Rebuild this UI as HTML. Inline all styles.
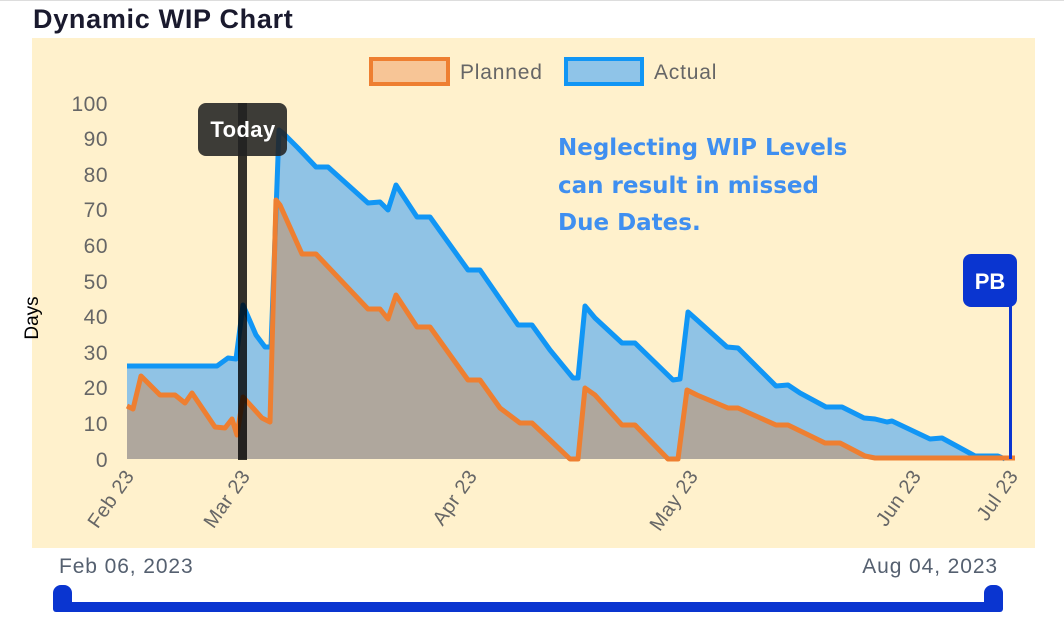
<!DOCTYPE html>
<html><head><meta charset="utf-8"><style>
body{margin:0;width:1064px;height:626px;background:#fff;overflow:hidden;font-family:"Liberation Sans",sans-serif}
</style></head><body>
<svg width="1064" height="626" xmlns="http://www.w3.org/2000/svg" style="position:absolute;left:0;top:0">
<line x1="0" y1="0.5" x2="1064" y2="0.5" stroke="#ddd"/>
<text x="33" y="28" font-size="27" font-weight="bold" fill="#1a1a2e" letter-spacing="0.7">Dynamic WIP Chart</text>
<rect x="32" y="38" width="1003" height="510" fill="#fff1cc"/>
<!-- legend -->
<rect x="371" y="59" width="77" height="25" fill="#f7c596" stroke="#ee7f31" stroke-width="4"/>
<text x="460" y="79" font-size="21" fill="#666" letter-spacing="0.8">Planned</text>
<rect x="566" y="59" width="76" height="25" fill="#8fc4e8" stroke="#1196f5" stroke-width="4"/>
<text x="654" y="79" font-size="21" fill="#666" letter-spacing="0.8">Actual</text>
<!-- y axis -->
<g font-size="21" fill="#666" text-anchor="end" letter-spacing="0.5">
<text x="108" y="111">100</text><text x="108" y="146">90</text><text x="108" y="182">80</text><text x="108" y="217">70</text><text x="108" y="253">60</text><text x="108" y="289">50</text><text x="108" y="324">40</text><text x="108" y="360">30</text><text x="108" y="395">20</text><text x="108" y="431">10</text><text x="108" y="467">0</text>
</g>
<text transform="translate(38,318) rotate(-90)" font-size="19" fill="#000" text-anchor="middle">Days</text>
<!-- actual area -->
<path d="M127,459 L127,366 L217,366 L228,358 L236,359 L243,305 L256,335 L265,347 L271,347 L279,130 L284,134 L298,148 L316,167 L328,167 L368,203 L380,202 L388,210 L396,185 L417,217 L430,217 L468,270 L480,270 L518,325 L532,325 L550,350 L573,378 L578,378 L585,306 L595,318 L622,343 L635,343 L673,380 L680,379 L688,312 L697,320 L727,347 L738,348 L776,386 L788,385 L800,393 L826,407 L842,407 L864,418 L875,419 L887,422 L892,421 L930,439 L942,438 L975,456 L998,456 L1005,459 Z" fill="#90c3e5" stroke="none"/>
<path d="M127,459 L127,406 L133,409 L141,376 L160,395 L175,395 L185,403 L192,393 L215,427 L225,428 L232,419 L237,435 L243,397 L262,418 L270,422 L276,200 L280,205 L302,254 L316,254 L368,309 L380,309 L388,319 L396,295 L417,327 L430,327 L468,380 L480,380 L500,408 L520,423 L532,423 L548,438 L570,459 L578,459 L585,388 L595,395 L622,425 L635,425 L668,459 L678,459 L687,390 L697,395 L728,408 L738,408 L776,425 L788,425 L825,443 L840,443 L865,456 L875,458 L1015,458 L1015,459 Z" fill="#afa79d" stroke="none"/>
<path d="M127,366 L217,366 L228,358 L236,359 L243,305 L256,335 L265,347 L271,347 L279,130 L284,134 L298,148 L316,167 L328,167 L368,203 L380,202 L388,210 L396,185 L417,217 L430,217 L468,270 L480,270 L518,325 L532,325 L550,350 L573,378 L578,378 L585,306 L595,318 L622,343 L635,343 L673,380 L680,379 L688,312 L697,320 L727,347 L738,348 L776,386 L788,385 L800,393 L826,407 L842,407 L864,418 L875,419 L887,422 L892,421 L930,439 L942,438 L975,456 L998,456 L1005,459" fill="none" stroke="#1196f5" stroke-width="5" stroke-linejoin="round"/>
<path d="M127,406 L133,409 L141,376 L160,395 L175,395 L185,403 L192,393 L215,427 L225,428 L232,419 L237,435 L243,397 L262,418 L270,422 L276,200 L280,205 L302,254 L316,254 L368,309 L380,309 L388,319 L396,295 L417,327 L430,327 L468,380 L480,380 L500,408 L520,423 L532,423 L548,438 L570,459 L578,459 L585,388 L595,395 L622,425 L635,425 L668,459 L678,459 L687,390 L697,395 L728,408 L738,408 L776,425 L788,425 L825,443 L840,443 L865,456 L875,458 L1015,458" fill="none" stroke="#ee7f31" stroke-width="5" stroke-linejoin="round"/>
<!-- today -->
<rect x="238" y="103" width="9" height="357" fill="#000" opacity="0.8"/>
<rect x="198" y="103" width="89" height="53" rx="8" fill="#222" opacity="0.88"/>
<text x="243" y="137" font-size="22" font-weight="bold" fill="#fff" text-anchor="middle" letter-spacing="0.4">Today</text>
<!-- PB -->
<rect x="1009" y="290" width="3" height="169" fill="#0a35d0"/>
<rect x="963" y="254" width="54" height="53" rx="8" fill="#0a35d0"/>
<text x="990" y="289" font-size="22" font-weight="bold" fill="#fff" text-anchor="middle">PB</text>
<!-- annotation -->
<g font-size="23" font-weight="bold" fill="#3f8ff0" font-family="DejaVu Sans, sans-serif">
<text x="558" y="155">Neglecting WIP Levels</text>
<text x="558" y="193">can result in missed</text>
<text x="558" y="230">Due Dates.</text>
</g>
<!-- x labels -->
<g font-size="20" fill="#666" text-anchor="end" letter-spacing="0.5">
<text transform="translate(135,476) rotate(-55)">Feb 23</text>
<text transform="translate(251,476) rotate(-55)">Mar 23</text>
<text transform="translate(478,476) rotate(-55)">Apr 23</text>
<text transform="translate(699,476) rotate(-55)">May 23</text>
<text transform="translate(922,476) rotate(-55)">Jun 23</text>
<text transform="translate(1019,476) rotate(-55)">Jul 23</text>
</g>
<!-- slider -->
<text x="59" y="573" font-size="21" fill="#556070" letter-spacing="0.9">Feb 06, 2023</text>
<text x="998" y="573" font-size="21" fill="#556070" text-anchor="end" letter-spacing="0.9">Aug 04, 2023</text>
<rect x="53" y="602" width="950" height="10" rx="3" fill="#0a35d0"/>
<rect x="53" y="585" width="19" height="27" rx="8" fill="#0a35d0"/>
<rect x="984" y="585" width="19" height="27" rx="8" fill="#0a35d0"/>
</svg>
</body></html>
